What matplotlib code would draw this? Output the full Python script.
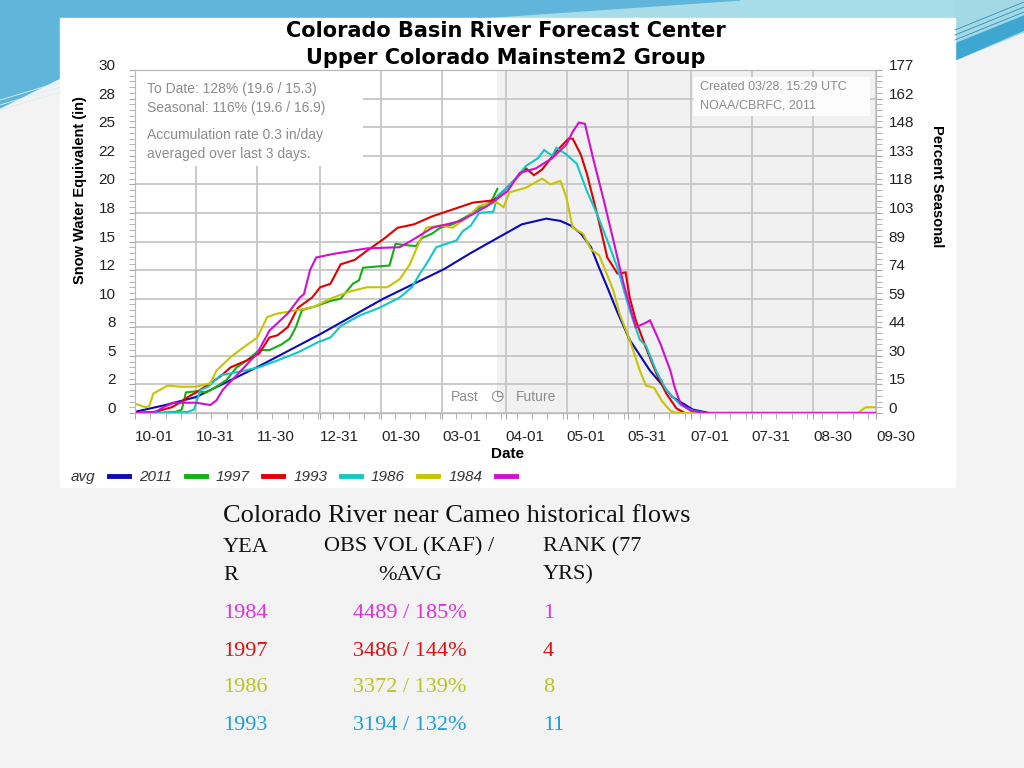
import matplotlib
matplotlib.use('Agg')
import matplotlib.pyplot as plt
from matplotlib.patches import Rectangle, Polygon
from matplotlib.ticker import AutoMinorLocator, MultipleLocator

plt.rcParams['font.family'] = ['Liberation Sans', 'DejaVu Sans']

# ── Data (x = days since 10-01, y = snow water equivalent in inches) ─────────
avg_day = [0, 15, 30, 45, 61, 91, 122, 152, 165, 178, 190, 202, 209, 214, 219,
           224, 228, 232, 237, 243, 253, 264, 274, 282, 364]
avg_swe = [0.1, 0.7, 1.4, 2.7, 4.1, 6.9, 10.0, 12.6, 14.0, 15.3, 16.5, 17.0, 16.8,
           16.4, 15.7, 14.5, 12.7, 11.0, 8.8, 6.4, 3.7, 1.4, 0.3, 0.0, 0.0]

y2011_day = [0, 10, 20, 23, 25, 30, 35, 40, 45, 50, 55, 61, 66, 72, 76, 79, 82,
             88, 96, 101, 107, 110, 112, 118, 125, 128, 132, 138, 141, 146, 150,
             156, 163, 168, 172, 175, 178]
y2011_swe = [0, 0, 0.1, 0.3, 1.8, 1.9, 1.8, 2.3, 2.9, 4.0, 4.6, 5.5, 5.5, 6.0, 6.5,
             7.5, 9.0, 9.3, 9.8, 10.0, 11.3, 11.6, 12.7, 12.8, 12.9, 14.8, 14.7,
             14.6, 15.3, 15.7, 16.2, 16.5, 17.2, 17.8, 18.2, 18.5, 19.6]

y1997_day = [0, 10, 18, 22, 26, 30, 37, 42, 47, 55, 61, 66, 70, 75, 80, 87, 91, 96,
             101, 108, 114, 122, 129, 137, 146, 156, 166, 176, 181, 186, 192, 196,
             200, 207, 213, 215, 219, 222, 227, 229, 232, 237, 241, 243, 246, 251,
             256, 261, 266, 270, 364]
y1997_swe = [0, 0.1, 0.5, 0.9, 1.4, 1.8, 2.6, 3.2, 4.0, 4.6, 5.2, 6.6, 6.8, 7.5, 9.2,
             10.1, 11.0, 11.3, 13.0, 13.4, 14.2, 15.2, 16.2, 16.5, 17.2, 17.8, 18.4,
             18.6, 19.4, 20.3, 21.4, 20.8, 21.3, 22.9, 24.0, 24.0, 22.6, 20.9, 17.4,
             15.9, 13.6, 12.2, 12.3, 10.1, 8.1, 5.7, 3.5, 1.7, 0.4, 0, 0]

y1993_day = [0, 15, 26, 29, 32, 36, 42, 51, 61, 70, 80, 90, 96, 101, 110, 120, 130,
             136, 140, 143, 148, 153, 158, 161, 165, 169, 176, 178, 182, 186, 192,
             198, 201, 205, 207, 212, 217, 222, 227, 232, 237, 243, 248, 251, 256,
             261, 268, 274, 280, 364]
y1993_swe = [0, 0, 0.1, 0.3, 2.0, 2.3, 3.3, 3.6, 4.0, 4.6, 5.3, 6.2, 6.6, 7.6, 8.5,
             9.2, 10.1, 11.0, 12.2, 13.0, 14.5, 14.8, 15.1, 15.9, 16.4, 17.5, 17.6,
             19.0, 19.6, 20.3, 21.6, 22.3, 23.0, 22.5, 23.2, 22.6, 21.8, 19.4, 17.4,
             15.1, 12.7, 9.0, 6.4, 5.9, 3.7, 2.0, 0.7, 0.2, 0, 0]

y1986_day = [0, 2, 5, 7, 9, 16, 22, 30, 37, 40, 47, 53, 60, 65, 70, 80, 88, 96, 105,
             114, 124, 130, 135, 140, 143, 150, 156, 163, 169, 174, 178, 181, 184,
             192, 200, 204, 209, 212, 215, 220, 224, 228, 231, 235, 238, 243, 248,
             251, 255, 259, 263, 266, 355, 359, 364]
y1986_swe = [0.8, 0.7, 0.5, 0.6, 1.7, 2.4, 2.3, 2.3, 2.6, 3.7, 4.9, 5.7, 6.6, 8.4,
             8.7, 9.0, 9.3, 10.0, 10.6, 11.0, 11.0, 11.7, 13.0, 15.1, 16.2, 16.4,
             16.2, 17.1, 18.1, 18.3, 18.4, 18.0, 19.3, 19.7, 20.5, 20.0, 20.3, 18.8,
             16.2, 15.7, 14.3, 13.8, 12.5, 10.7, 8.7, 6.4, 3.7, 2.4, 2.2, 1.0, 0.2,
             0, 0, 0.5, 0.5]

y1984_day = [0, 10, 14, 19, 30, 37, 40, 43, 51, 60, 66, 75, 81, 83, 86, 89, 97, 114,
             130, 136, 146, 160, 173, 183, 189, 197, 205, 212, 215, 218, 221, 225,
             230, 235, 240, 246, 251, 253, 258, 263, 265, 268, 273, 280, 364]
y1984_swe = [0, 0.1, 0.5, 0.9, 0.9, 0.7, 1.1, 2.0, 3.5, 5.2, 7.2, 8.7, 10.1, 10.4,
             12.5, 13.6, 13.9, 14.4, 14.5, 15.1, 16.2, 16.8, 18.1, 19.4, 21.0, 21.4,
             22.3, 23.5, 24.6, 25.4, 25.3, 22.3, 18.8, 15.1, 11.3, 7.5, 7.9, 8.1,
             6.1, 3.7, 2.3, 0.8, 0.2, 0, 0]

series_names = ['avg', '2011', '1997', '1993', '1986', '1984']
series_colors = ['#0a0ab8', '#10b010', '#e00000', '#10c8c8', '#c8c400', '#d010d0']
series_days = [avg_day, y2011_day, y1997_day, y1993_day, y1986_day, y1984_day]
series_swe = [avg_swe, y2011_swe, y1997_swe, y1993_swe, y1986_swe, y1984_swe]

date_ticks = [0, 30, 60, 91, 121, 151, 182, 212, 242, 273, 303, 333, 364]
date_labels = ['10-01', '10-31', '11-30', '12-31', '01-30', '03-01', '04-01',
               '05-01', '05-31', '07-01', '07-31', '08-30', '09-30']
swe_ticks = [0, 2.5, 5, 7.5, 10, 12.5, 15, 17.5, 20, 22.5, 25, 27.5, 30]
swe_labels = ['0', '2', '5', '8', '10', '12', '15', '18', '20', '22', '25', '28', '30']
pct_labels = ['0', '15', '30', '44', '59', '74', '89', '103', '118', '133', '148',
              '162', '177']
today = 178

table_years = ['1984', '1997', '1986', '1993']
table_volumes = ['4489 / 185%', '3486 / 144%', '3372 / 139%', '3194 / 132%']
table_ranks = ['1', '4', '8', '11']
table_colors = ['#e030e0', '#e01010', '#bcc420', '#1aa0dc']

# ── Slide background ──────────────────────────────────────────────────────────
fig = plt.figure(figsize=(10.24, 7.68), dpi=100, facecolor='#f3f3f3')
bg = fig.add_axes([0, 0, 1, 1])
bg.set_xlim(0, 1024)
bg.set_ylim(768, 0)
bg.axis('off')
bg.add_patch(Polygon([(0, 0), (1024, 0), (1024, 22), (0, 22)], color='#a8dce7'))
bg.add_patch(Polygon([(0, 0), (740, 0), (420, 22), (60, 78), (0, 108)],
                     color='#5fb6da'))
bg.add_patch(Polygon([(955, 0), (1024, 0), (1024, 32), (955, 60)], color='#a2d9e5'))
bg.add_patch(Polygon([(955, 44), (1024, 16), (1024, 30), (955, 60)], color='#3ea7d1'))
for off in (0, 5, 10):
    bg.plot([0, 60], [100 + off, 82 + off], color='#d8eef5', lw=0.6)
    bg.plot([955, 1024], [30 + off, 2 + off], color='#2f8fb8', lw=0.6)
bg.add_patch(Rectangle((60, 18), 895, 469, color='white'))


def ftext(x, y, s, **kw):
    # text placed in slide pixel coordinates, drawn above all axes
    return fig.text(x, y, s, transform=bg.transData, **kw)


# ── Chart ─────────────────────────────────────────────────────────────────────
ax = fig.add_axes([135 / 1024, 1 - 413 / 768, 741 / 1024, 343 / 768])
ax.set_facecolor('white')
ax.axvspan(today, 364, color='#f1f1f1', zorder=0, lw=0)
ax.set_axisbelow(True)
ax.grid(True, which='major', color='#c6c6c6', lw=1.3)

# white info boxes covering the grid
ax.add_patch(Rectangle((0, 21.6), 112, 8.4, facecolor='white', edgecolor='none',
                       zorder=1))
ax.add_patch(Rectangle((274, 26.0), 87, 3.4, facecolor='#fcfcfc', edgecolor='none',
                       zorder=1))

lines = []
for name, color, d, v in zip(series_names, series_colors, series_days, series_swe):
    ln, = ax.plot(d, v, color=color, lw=1.5, label=name, zorder=2,
                  solid_joinstyle='miter')
    lines.append(ln)

ax.set_xlim(0, 364)
ax.set_ylim(0, 30)
ax.set_xticks(date_ticks, labels=date_labels)
ax.set_yticks(swe_ticks, labels=swe_labels)
ax.xaxis.set_minor_locator(AutoMinorLocator(4))
ax.yaxis.set_minor_locator(MultipleLocator(0.5))
ax.tick_params(which='both', direction='out', length=4, color='#a8a8a8',
               labelsize=11, labelcolor='#222222')
ax.tick_params(axis='x', pad=8)
ax.tick_params(axis='y', pad=10)
for lab in ax.get_xticklabels():
    lab.set_ha('left')
for lab in ax.get_yticklabels():
    lab.set_va('baseline')
for sp in ax.spines.values():
    sp.set_color('#b8b8b8')

ax2 = ax.twinx()
ax2.set_ylim(0, 30)
ax2.set_yticks(swe_ticks, labels=pct_labels)
ax2.yaxis.set_minor_locator(MultipleLocator(0.5))
ax2.tick_params(which='both', direction='out', length=4, color='#a8a8a8',
                labelsize=11, labelcolor='#222222', pad=5)
for lab in ax2.get_yticklabels():
    lab.set_va('baseline')
for sp in ax2.spines.values():
    sp.set_color('#b8b8b8')

# titles and axis labels
ftext(506, 31, 'Colorado Basin River Forecast Center', ha='center', va='center',
      fontsize=15, fontweight='bold', family='DejaVu Sans')
ftext(506, 58, 'Upper Colorado Mainstem2 Group', ha='center', va='center',
      fontsize=15, fontweight='bold', family='DejaVu Sans')
ftext(80, 190, 'Snow Water Equivalent (in)', rotation=90, ha='center',
      va='center', fontsize=10.5, fontweight='bold',
      family=['Liberation Sans Narrow', 'Liberation Sans'])
ftext(937, 186, 'Percent Seasonal', rotation=-90, ha='center', va='center',
      fontsize=10.5, fontweight='bold',
      family=['Liberation Sans Narrow', 'Liberation Sans'])
ftext(507, 454, 'Date', ha='center', va='center', fontsize=11, fontweight='bold')

info_c = '#8c8c8c'
ftext(147, 89, 'To Date: 128% (19.6 / 15.3)', va='center', fontsize=10, color=info_c)
ftext(147, 108, 'Seasonal: 116% (19.6 / 16.9)', va='center', fontsize=10,
      color=info_c)
ftext(147, 135, 'Accumulation rate 0.3 in/day', va='center', fontsize=10,
      color=info_c)
ftext(147, 154, 'averaged over last 3 days.', va='center', fontsize=10, color=info_c)
ftext(700, 87, 'Created 03/28. 15:29 UTC', va='center', fontsize=9, color=info_c)
ftext(700, 105, 'NOAA/CBRFC, 2011', va='center', fontsize=9, color=info_c)
ftext(479, 397, 'Past', ha='right', va='center', fontsize=10, color=info_c)
ftext(497, 396, '\u25F7', ha='center', va='center', fontsize=11, color='#777777',
      family='DejaVu Sans')
ftext(516, 397, 'Future', ha='left', va='center', fontsize=10, color=info_c)

leg = fig.legend(lines, series_names, loc='center left',
                 bbox_to_anchor=(71 / 1024, 1 - 477 / 768), ncol=6,
                 markerfirst=False, frameon=False, borderpad=0, borderaxespad=0,
                 handlelength=1.3, handletextpad=0.9, columnspacing=0.65,
                 prop={'style': 'italic', 'size': 11})
for h in leg.get_lines():
    h.set_linewidth(3.5)
for t in leg.get_texts():
    t.set_color('#333333')

# ── Slide text below the chart ────────────────────────────────────────────────
serif = ['Liberation Serif', 'DejaVu Serif']
ink = '#111111'
ftext(223, 516, 'Colorado River near Cameo historical flows', va='center',
      fontsize=19, family=serif, color=ink)
ftext(223, 547, 'YEA', va='center', fontsize=16, family=serif, color=ink)
ftext(223, 575, 'R', va='center', fontsize=16, family=serif, color=ink)
ftext(409, 547, 'OBS VOL (KAF) /', ha='center', va='center', fontsize=16,
      family=serif, color=ink)
ftext(410, 575, '%AVG', ha='center', va='center', fontsize=16, family=serif,
      color=ink)
ftext(543, 547, 'RANK (77', va='center', fontsize=16, family=serif, color=ink)
ftext(543, 575, 'YRS)', va='center', fontsize=16, family=serif, color=ink)

row_y = [613, 651, 688, 725]
for yy, yr, vol, rk, c in zip(row_y, table_years, table_volumes, table_ranks,
                              table_colors):
    ftext(223, yy, yr, va='center', fontsize=16, family=serif, color=c)
    ftext(410, yy, vol, ha='center', va='center', fontsize=16, family=serif, color=c)
    ftext(543, yy, rk, va='center', fontsize=16, family=serif, color=c)

fig.savefig('out.png', dpi=100, facecolor=fig.get_facecolor())
